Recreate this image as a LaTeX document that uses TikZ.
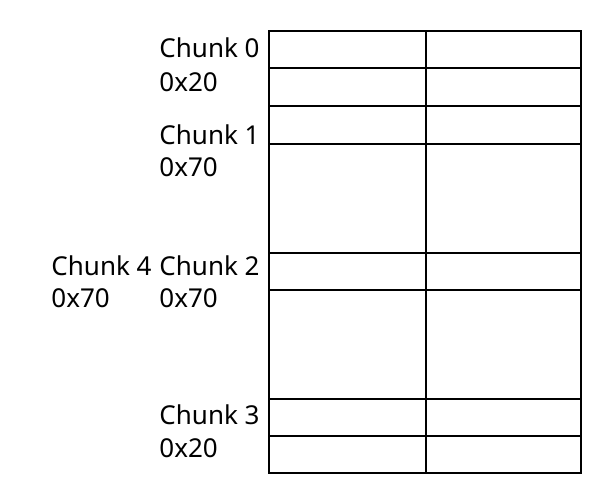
\documentclass[tikz,border=0pt]{standalone}
\usepackage{fontspec}
\setmainfont{Noto Sans}
\begin{document}
\begin{tikzpicture}[x=1pt, y=-1pt, line width=2.9pt,
    chunklbl/.style={anchor=base west, inner sep=0pt, font=\fontsize{26}{31}\selectfont}]
\useasboundingbox (0,0) rectangle (603,486);

% memory layout
\coordinate (topleft) at (269,31);
\coordinate (botright) at (581,473);
\draw (topleft) rectangle (botright);
\draw (426,31) -- (426,473);
\foreach \y in {68,106,144,253,290,399,436}
    \draw (269,\y) -- (581,\y);

% labels
\node[chunklbl] (chunk0) at (158,58) {Chunk 0};
\node[chunklbl] (size0) at (158,92) {0x20};
\node[chunklbl] (chunk1) at (158,145) {Chunk 1};
\node[chunklbl] (size1) at (158,177) {0x70};
\node[chunklbl] (chunk4) at (50,276) {Chunk 4};
\node[chunklbl] (size4) at (50,308) {0x70};
\node[chunklbl] (chunk2) at (158,276) {Chunk 2};
\node[chunklbl] (size2) at (158,308) {0x70};
\node[chunklbl] (chunk3) at (158,425) {Chunk 3};
\node[chunklbl] (size3) at (158,458) {0x20};
\end{tikzpicture}
\end{document}
